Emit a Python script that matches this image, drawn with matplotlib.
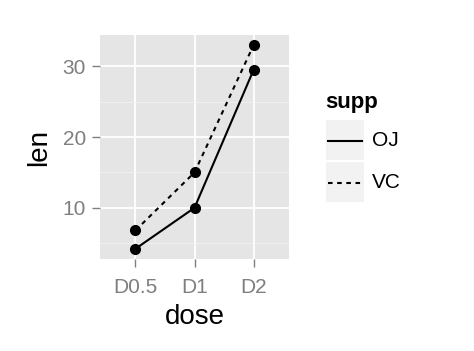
import matplotlib
matplotlib.use("Agg")
import matplotlib.pyplot as plt
from matplotlib.lines import Line2D
from matplotlib.patches import Rectangle

plt.rcParams["font.family"] = ["Liberation Sans", "DejaVu Sans"]

# data
doses = ["D0.5", "D1", "D2"]
supps = ["OJ", "VC"]
len_oj = [4.2, 10, 29.5]
len_vc = [6.8, 15, 33]
styles = {"OJ": "-", "VC": (0, (2.2, 2.2))}
yticks = [10, 20, 30]
yminor = [5, 15, 25]

W, H = 474, 351
fig = plt.figure(figsize=(W / 100, H / 100), dpi=100)
ax = fig.add_axes([100 / W, 1 - 259 / H, 189 / W, 224 / H])
ax.set_facecolor("#E5E5E5")

x = list(range(1, len(doses) + 1))
for name, vals in zip(supps, (len_oj, len_vc)):
    ax.plot(x, vals, color="black", lw=1.5, linestyle=styles[name], zorder=3)
    ax.plot(x, vals, "o", color="black", ms=7, zorder=4)

allv = len_oj + len_vc
lo, hi = min(allv), max(allv)
pad = (hi - lo) * 0.05
ax.set_ylim(lo - pad, hi + pad)
ax.set_xlim(0.4, len(doses) + 0.6)

ax.set_xticks(x)
ax.set_xticklabels(doses)
ax.set_yticks(yticks)
ax.set_yticks(yminor, minor=True)
ax.set_xticks([], minor=True)
ax.grid(True, which="major", color="white", lw=1.3, zorder=0)
ax.grid(True, which="minor", color="#F2F2F2", lw=0.6, zorder=0)
ax.set_axisbelow(True)
for s in ax.spines.values():
    s.set_visible(False)
ax.tick_params(which="major", length=6, width=1, color="#7F7F7F",
               labelcolor="#7F7F7F", labelsize=15)
ax.tick_params(axis="x", pad=8)
ax.tick_params(axis="y", pad=4)
ax.tick_params(which="minor", length=0)
ax.set_xlabel("dose", fontsize=20, labelpad=5)
ax.set_ylabel("len", fontsize=20, labelpad=8)

# legend
fig.text(325 / W, 1 - 102 / H, "supp", fontsize=16, fontweight="bold",
         ha="left", va="center")
for i, name in enumerate(supps):
    top = 120 + i * 42
    fig.add_artist(Rectangle((326 / W, 1 - (top + 40) / H), 38 / W, 40 / H,
                             transform=fig.transFigure, facecolor="#F2F2F2",
                             edgecolor="none"))
    yc = 1 - (top + 21) / H
    fig.add_artist(Line2D([328 / W, 362 / W], [yc, yc], transform=fig.transFigure,
                          color="black", lw=1.5, linestyle=styles[name]))
    fig.text(372 / W, yc, name, fontsize=15, ha="left", va="center")

fig.savefig("out.png", dpi=100)
